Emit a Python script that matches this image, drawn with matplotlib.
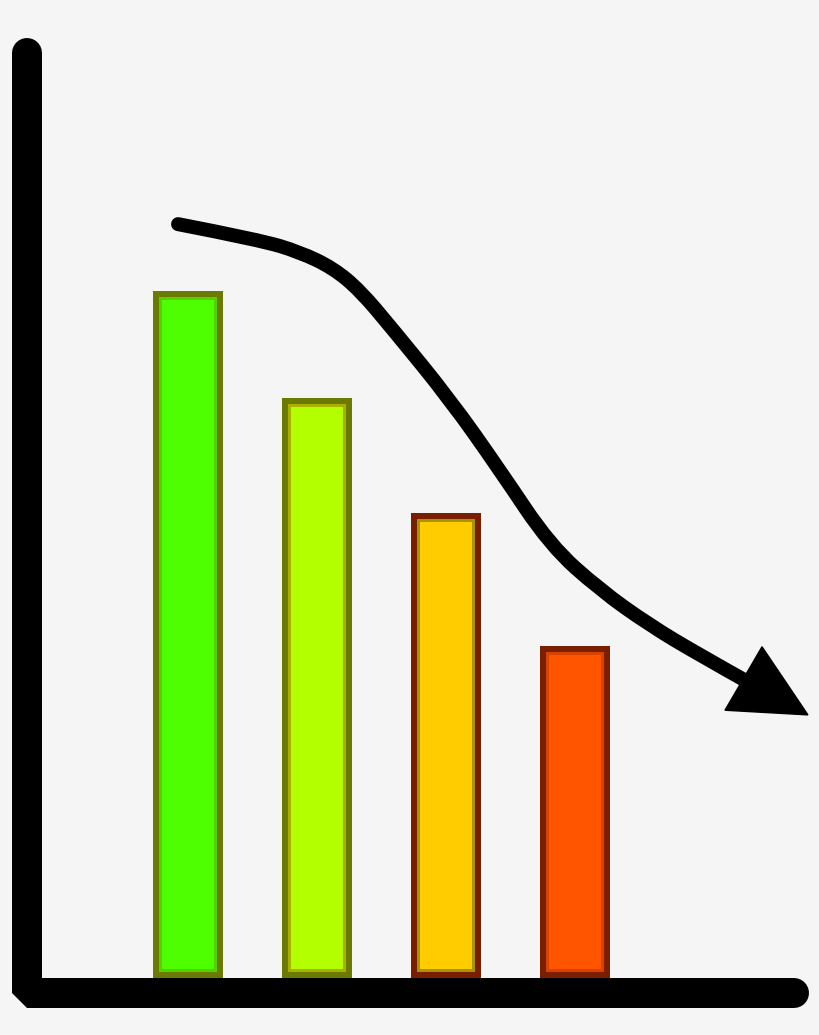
import matplotlib
matplotlib.use("Agg")
import matplotlib.pyplot as plt
from matplotlib.patches import Polygon, PathPatch
from matplotlib.path import Path

# ---- data ----
categories = ["A", "B", "C", "D"]
values = [73.6, 62.2, 49.8, 35.6]
fill_colors = ["#4dff00", "#b3ff00", "#ffcc00", "#ff5500"]
edge_colors = ["#6b7a00", "#6b7a00", "#7a1e00", "#7a1e00"]
inner_colors = ["#55d000", "#a8b000", "#a89400", "#d84400"]

trend_x = [-0.077, 0.558, 0.868, 1.124, 1.333, 1.589, 2.031, 2.419, 2.806, 3.194, 3.581, 3.969, 4.357]
trend_y = [80.8, 79.1, 77.8, 76.1, 73.7, 69.5, 62.0, 54.4, 46.4, 41.6, 37.8, 34.6, 31.6]
head_x = [4.450, 4.163, 4.806]
head_y = [35.5, 28.7, 28.2]

# ---- layout ----
W, H = 820, 1035
BG = "#f5f5f5"
PX = 0.72  # points per pixel at dpi 100

fig = plt.figure(figsize=(W / 100, H / 100), dpi=100, facecolor=BG)
ax_left, ax_right, ax_top, ax_bottom = 27, 806, 45, 993
ax = fig.add_axes([ax_left / W, 1 - ax_bottom / H,
                   (ax_right - ax_left) / W, (ax_bottom - ax_top) / H])
ax.set_facecolor(BG)
ax.set_xlim(-1.248, 4.791)
ax.set_ylim(-1.608, 100)
ax.axis("off")

xpos = list(range(len(categories)))
bar_w = 0.543

# fill + inner band (edge clipped to bar -> only inner half visible)
bars_in = ax.bar(xpos, values, width=bar_w, color=fill_colors,
                 edgecolor=inner_colors, linewidth=2 * 9 * PX, zorder=2)
for p in bars_in:
    p.set_clip_path(p)
bars_out = ax.bar(xpos, values, width=bar_w, color="none",
                  edgecolor=edge_colors, linewidth=2 * 6 * PX, zorder=3)
for p in bars_out:
    p.set_clip_path(p)

# trend arrow: smooth quadratic path through the trend points
pts = list(zip(trend_x, trend_y))
verts = [pts[0]]
codes = [Path.MOVETO]
for i in range(1, len(pts) - 1):
    mid = ((pts[i][0] + pts[i + 1][0]) / 2, (pts[i][1] + pts[i + 1][1]) / 2)
    if i == len(pts) - 2:
        mid = pts[-1]
    verts += [pts[i], mid]
    codes += [Path.CURVE3, Path.CURVE3]
trend_path = Path(verts, codes)
ax.add_patch(PathPatch(trend_path, facecolor="none", edgecolor="black",
                       lw=14 * PX, capstyle="round", joinstyle="round",
                       zorder=6, clip_on=False))
ax.add_patch(Polygon(list(zip(head_x, head_y)), closed=True, facecolor="black",
                     edgecolor="black", lw=1, zorder=7, clip_on=False))

# axis lines (rounded ends, bevelled corner)
top_frac = (ax_bottom - 53) / (ax_bottom - ax_top)
right_frac = (794 - ax_left) / (ax_right - ax_left)
ax.plot([0, 0, right_frac], [top_frac, 0, 0], transform=ax.transAxes,
        color="black", lw=30 * PX, solid_joinstyle="bevel",
        solid_capstyle="round", clip_on=False, zorder=8)

fig.savefig("out.png", dpi=100, facecolor=BG)
